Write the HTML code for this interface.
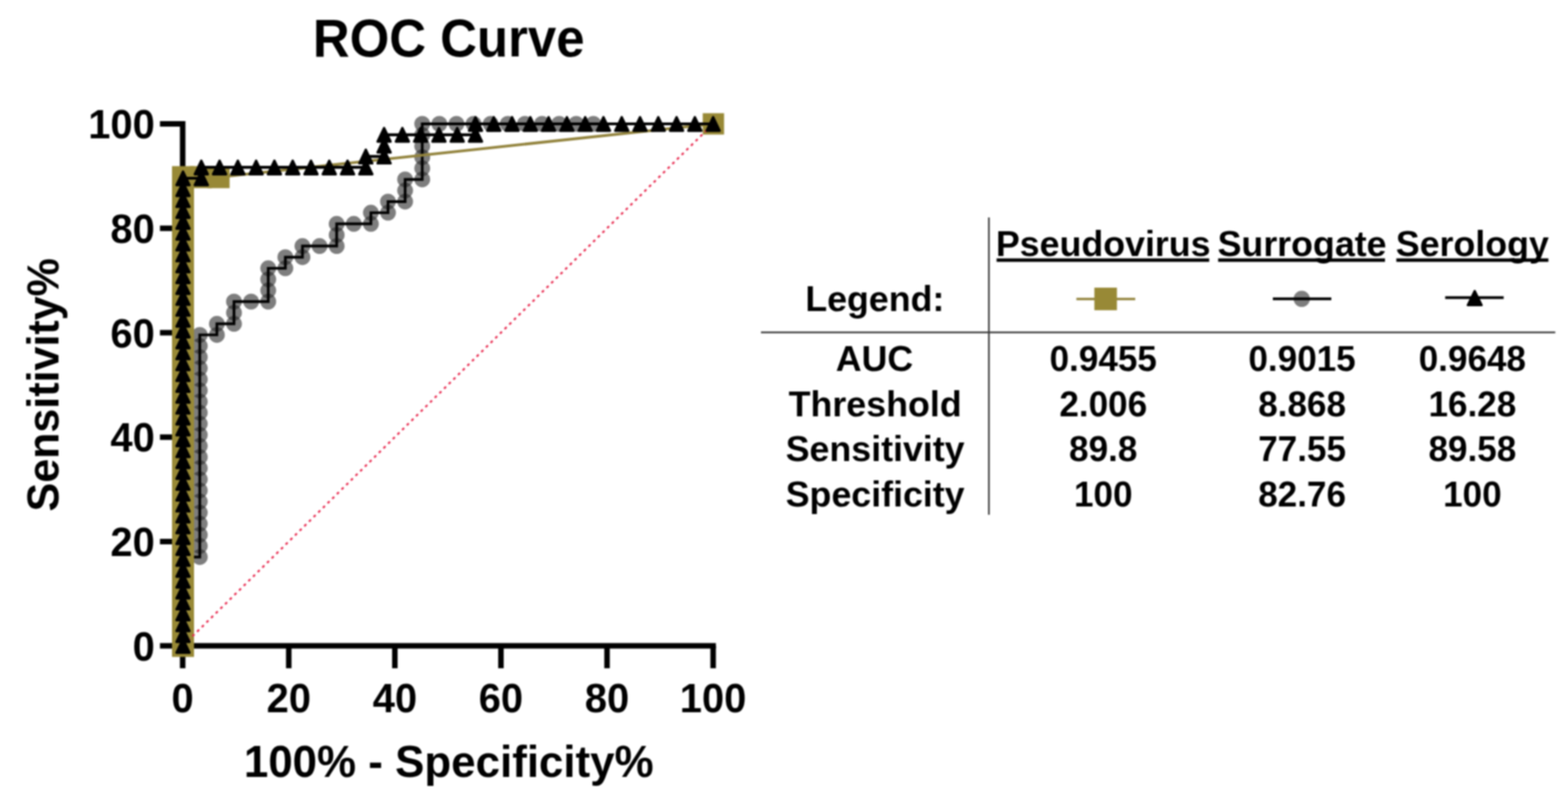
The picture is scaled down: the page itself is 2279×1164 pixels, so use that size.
<!DOCTYPE html>
<html lang="en"><head><meta charset="utf-8"><title>ROC Curve</title>
<style>
html,body{margin:0;padding:0;background:#fff;}
body{width:2279px;height:1164px;overflow:hidden;}
svg{display:block;position:absolute;left:0;top:0;filter:blur(1px);}
text{font-family:"Liberation Sans",sans-serif;font-weight:bold;fill:#000;}
.tk{font-size:58px;}
.tb{font-size:51px;}
.ax{font-size:62.5px;}
.tt{font-size:74px;}
.ax2{font-size:63.8px;}
.th{font-size:52px;}
</style></head><body>
<svg width="2279" height="1164" viewBox="0 0 2279 1164" role="img" aria-label="ROC Curve">
<rect width="2279" height="1164" fill="#fff"/>
<text class="tt" transform="translate(652.2,82) scale(1.000,1.050)" text-anchor="middle">ROC Curve</text>
<text class="ax2" transform="translate(652.2,1128.5) scale(1.000,1.030)" text-anchor="middle">100% - Specificity%</text>
<text class="ax" transform="translate(85.2,559.2) rotate(-90) scale(1.000,1.050)" text-anchor="middle">Sensitivity%</text>
<g stroke="#000" stroke-width="8" fill="none" stroke-linecap="butt">
<path d="M265.5 176 V942.6"/>
<path d="M232.5 938.6 H1040.5"/>
<path d="M265.5 938.6 V971.1"/>
<path d="M232.5 786.88 H265.5"/>
<path d="M419.7 938.6 V971.1"/>
<path d="M232.5 635.16 H265.5"/>
<path d="M573.9 938.6 V971.1"/>
<path d="M232.5 483.44 H265.5"/>
<path d="M728.1 938.6 V971.1"/>
<path d="M232.5 331.72 H265.5"/>
<path d="M882.3 938.6 V971.1"/>
<path d="M232.5 180 H265.5"/>
<path d="M1036.5 938.6 V971.1"/>
</g>
<text class="tk" transform="translate(225,959.9) scale(1.000,1.020)" text-anchor="end">0</text>
<text class="tk" transform="translate(265.5,1035.2) scale(1.000,1.020)" text-anchor="middle">0</text>
<text class="tk" transform="translate(225,808.18) scale(1.000,1.020)" text-anchor="end">20</text>
<text class="tk" transform="translate(419.7,1035.2) scale(1.000,1.020)" text-anchor="middle">20</text>
<text class="tk" transform="translate(225,656.46) scale(1.000,1.020)" text-anchor="end">40</text>
<text class="tk" transform="translate(573.9,1035.2) scale(1.000,1.020)" text-anchor="middle">40</text>
<text class="tk" transform="translate(225,504.74) scale(1.000,1.020)" text-anchor="end">60</text>
<text class="tk" transform="translate(728.1,1035.2) scale(1.000,1.020)" text-anchor="middle">60</text>
<text class="tk" transform="translate(225,353.02) scale(1.000,1.020)" text-anchor="end">80</text>
<text class="tk" transform="translate(882.3,1035.2) scale(1.000,1.020)" text-anchor="middle">80</text>
<text class="tk" transform="translate(225,201.3) scale(1.000,1.020)" text-anchor="end">100</text>
<text class="tk" transform="translate(1036.5,1035.2) scale(1.000,1.020)" text-anchor="middle">100</text>
<g fill="rgba(40,40,40,0.60)">
<circle cx="290.37" cy="809.48" r="11.5"/>
<circle cx="290.37" cy="793.34" r="11.5"/>
<circle cx="290.37" cy="777.2" r="11.5"/>
<circle cx="290.37" cy="761.06" r="11.5"/>
<circle cx="290.37" cy="744.91" r="11.5"/>
<circle cx="290.37" cy="728.77" r="11.5"/>
<circle cx="290.37" cy="712.63" r="11.5"/>
<circle cx="290.37" cy="696.49" r="11.5"/>
<circle cx="290.37" cy="680.35" r="11.5"/>
<circle cx="290.37" cy="664.21" r="11.5"/>
<circle cx="290.37" cy="648.07" r="11.5"/>
<circle cx="290.37" cy="631.93" r="11.5"/>
<circle cx="290.37" cy="615.79" r="11.5"/>
<circle cx="290.37" cy="599.65" r="11.5"/>
<circle cx="290.37" cy="583.51" r="11.5"/>
<circle cx="290.37" cy="567.37" r="11.5"/>
<circle cx="290.37" cy="551.23" r="11.5"/>
<circle cx="290.37" cy="535.09" r="11.5"/>
<circle cx="290.37" cy="518.95" r="11.5"/>
<circle cx="290.37" cy="502.81" r="11.5"/>
<circle cx="290.37" cy="486.67" r="11.5"/>
<circle cx="315.24" cy="486.67" r="11.5"/>
<circle cx="315.24" cy="470.53" r="11.5"/>
<circle cx="340.11" cy="470.53" r="11.5"/>
<circle cx="340.11" cy="454.39" r="11.5"/>
<circle cx="340.11" cy="438.25" r="11.5"/>
<circle cx="364.98" cy="438.25" r="11.5"/>
<circle cx="389.85" cy="438.25" r="11.5"/>
<circle cx="389.85" cy="422.11" r="11.5"/>
<circle cx="389.85" cy="405.97" r="11.5"/>
<circle cx="389.85" cy="389.83" r="11.5"/>
<circle cx="414.73" cy="389.83" r="11.5"/>
<circle cx="414.73" cy="373.69" r="11.5"/>
<circle cx="439.6" cy="373.69" r="11.5"/>
<circle cx="439.6" cy="357.54" r="11.5"/>
<circle cx="464.47" cy="357.54" r="11.5"/>
<circle cx="489.34" cy="357.54" r="11.5"/>
<circle cx="489.34" cy="341.4" r="11.5"/>
<circle cx="489.34" cy="325.26" r="11.5"/>
<circle cx="514.21" cy="325.26" r="11.5"/>
<circle cx="539.08" cy="325.26" r="11.5"/>
<circle cx="539.08" cy="309.12" r="11.5"/>
<circle cx="563.95" cy="309.12" r="11.5"/>
<circle cx="563.95" cy="292.98" r="11.5"/>
<circle cx="588.82" cy="292.98" r="11.5"/>
<circle cx="588.82" cy="276.84" r="11.5"/>
<circle cx="588.82" cy="260.7" r="11.5"/>
<circle cx="613.69" cy="260.7" r="11.5"/>
<circle cx="613.69" cy="244.56" r="11.5"/>
<circle cx="613.69" cy="228.42" r="11.5"/>
<circle cx="613.69" cy="212.28" r="11.5"/>
<circle cx="613.69" cy="196.14" r="11.5"/>
<circle cx="613.69" cy="180" r="11.5"/>
<circle cx="638.56" cy="180" r="11.5"/>
<circle cx="663.44" cy="180" r="11.5"/>
<circle cx="688.31" cy="180" r="11.5"/>
<circle cx="713.18" cy="180" r="11.5"/>
<circle cx="738.05" cy="180" r="11.5"/>
<circle cx="762.92" cy="180" r="11.5"/>
<circle cx="787.79" cy="180" r="11.5"/>
<circle cx="812.66" cy="180" r="11.5"/>
<circle cx="837.53" cy="180" r="11.5"/>
<circle cx="862.4" cy="180" r="11.5"/>
</g>
<path d="M266 809.48 L290.37 809.48 L290.37 793.34 L290.37 777.2 L290.37 761.06 L290.37 744.91 L290.37 728.77 L290.37 712.63 L290.37 696.49 L290.37 680.35 L290.37 664.21 L290.37 648.07 L290.37 631.93 L290.37 615.79 L290.37 599.65 L290.37 583.51 L290.37 567.37 L290.37 551.23 L290.37 535.09 L290.37 518.95 L290.37 502.81 L290.37 486.67 L315.24 486.67 L315.24 470.53 L340.11 470.53 L340.11 454.39 L340.11 438.25 L364.98 438.25 L389.85 438.25 L389.85 422.11 L389.85 405.97 L389.85 389.83 L414.73 389.83 L414.73 373.69 L439.6 373.69 L439.6 357.54 L464.47 357.54 L489.34 357.54 L489.34 341.4 L489.34 325.26 L514.21 325.26 L539.08 325.26 L539.08 309.12 L563.95 309.12 L563.95 292.98 L588.82 292.98 L588.82 276.84 L588.82 260.7 L613.69 260.7 L613.69 244.56 L613.69 228.42 L613.69 212.28 L613.69 196.14 L613.69 180 L638.56 180 L663.44 180 L688.31 180 L713.18 180 L738.05 180 L762.92 180 L787.79 180 L812.66 180 L837.53 180 L862.4 180" stroke="#000" stroke-width="3.9" fill="none" stroke-linejoin="miter"/>
<path d="M317.7 257.41 L1036.5 180" stroke="#93843e" stroke-width="4" fill="none"/>
<g fill="#988936">
<rect x="250" y="922.6" width="32" height="32"/>
<rect x="250" y="907.12" width="32" height="32"/>
<rect x="250" y="891.64" width="32" height="32"/>
<rect x="250" y="876.16" width="32" height="32"/>
<rect x="250" y="860.67" width="32" height="32"/>
<rect x="250" y="845.19" width="32" height="32"/>
<rect x="250" y="829.71" width="32" height="32"/>
<rect x="250" y="814.23" width="32" height="32"/>
<rect x="250" y="798.75" width="32" height="32"/>
<rect x="250" y="783.27" width="32" height="32"/>
<rect x="250" y="767.78" width="32" height="32"/>
<rect x="250" y="752.3" width="32" height="32"/>
<rect x="250" y="736.82" width="32" height="32"/>
<rect x="250" y="721.34" width="32" height="32"/>
<rect x="250" y="705.86" width="32" height="32"/>
<rect x="250" y="690.38" width="32" height="32"/>
<rect x="250" y="674.89" width="32" height="32"/>
<rect x="250" y="659.41" width="32" height="32"/>
<rect x="250" y="643.93" width="32" height="32"/>
<rect x="250" y="628.45" width="32" height="32"/>
<rect x="250" y="612.97" width="32" height="32"/>
<rect x="250" y="597.49" width="32" height="32"/>
<rect x="250" y="582" width="32" height="32"/>
<rect x="250" y="566.52" width="32" height="32"/>
<rect x="250" y="551.04" width="32" height="32"/>
<rect x="250" y="535.56" width="32" height="32"/>
<rect x="250" y="520.08" width="32" height="32"/>
<rect x="250" y="504.6" width="32" height="32"/>
<rect x="250" y="489.11" width="32" height="32"/>
<rect x="250" y="473.63" width="32" height="32"/>
<rect x="250" y="458.15" width="32" height="32"/>
<rect x="250" y="442.67" width="32" height="32"/>
<rect x="250" y="427.19" width="32" height="32"/>
<rect x="250" y="411.71" width="32" height="32"/>
<rect x="250" y="396.22" width="32" height="32"/>
<rect x="250" y="380.74" width="32" height="32"/>
<rect x="250" y="365.26" width="32" height="32"/>
<rect x="250" y="349.78" width="32" height="32"/>
<rect x="250" y="334.3" width="32" height="32"/>
<rect x="250" y="318.82" width="32" height="32"/>
<rect x="250" y="303.33" width="32" height="32"/>
<rect x="250" y="287.85" width="32" height="32"/>
<rect x="250" y="272.37" width="32" height="32"/>
<rect x="250" y="256.89" width="32" height="32"/>
<rect x="250" y="241.41" width="32" height="32"/>
<rect x="276" y="241.41" width="32" height="32"/>
<rect x="301.7" y="241.41" width="32" height="32"/>
<rect x="1021.4" y="164.5" width="31" height="31"/>
</g>
<path d="M265.5 938.6 L1036.5 180" stroke="#e8294e" stroke-width="2.8" stroke-dasharray="4 5.5" stroke-dashoffset="-1" fill="none"/>
<path d="M266 938.6 L266 922.8 L266 906.99 L266 891.19 L266 875.38 L266 859.58 L266 843.77 L266 827.97 L266 812.17 L266 796.36 L266 780.56 L266 764.75 L266 748.95 L266 733.15 L266 717.34 L266 701.54 L266 685.73 L266 669.93 L266 654.12 L266 638.32 L266 622.52 L266 606.71 L266 590.91 L266 575.1 L266 559.3 L266 543.5 L266 527.69 L266 511.89 L266 496.08 L266 480.28 L266 464.48 L266 448.67 L266 432.87 L266 417.06 L266 401.26 L266 385.45 L266 369.65 L266 353.85 L266 338.04 L266 322.24 L266 306.43 L266 290.63 L266 274.83 L266 259.02 L292.57 259.02 L292.57 243.22 L319.14 243.22 L345.71 243.22 L372.28 243.22 L398.84 243.22 L425.41 243.22 L451.98 243.22 L478.55 243.22 L505.12 243.22 L531.69 243.22 L531.69 227.41 L558.26 227.41 L558.26 211.61 L558.26 195.8 L584.83 195.8 L611.4 195.8 L637.97 195.8 L664.53 195.8 L691.1 195.8 L691.1 180 L717.67 180 L744.24 180 L770.81 180 L797.38 180 L823.95 180 L850.52 180 L877.09 180 L903.66 180 L930.22 180 L956.79 180 L983.36 180 L1009.93 180 L1036.5 180" stroke="#000" stroke-width="4.2" fill="none" stroke-linejoin="miter"/>
<g fill="#000" stroke="#000" stroke-width="3.4" stroke-linejoin="round">
<path d="M266 928.8 l9.5 19.8 h-19z"/>
<path d="M266 913 l9.5 19.8 h-19z"/>
<path d="M266 897.19 l9.5 19.8 h-19z"/>
<path d="M266 881.39 l9.5 19.8 h-19z"/>
<path d="M266 865.58 l9.5 19.8 h-19z"/>
<path d="M266 849.78 l9.5 19.8 h-19z"/>
<path d="M266 833.98 l9.5 19.8 h-19z"/>
<path d="M266 818.17 l9.5 19.8 h-19z"/>
<path d="M266 802.37 l9.5 19.8 h-19z"/>
<path d="M266 786.56 l9.5 19.8 h-19z"/>
<path d="M266 770.76 l9.5 19.8 h-19z"/>
<path d="M266 754.95 l9.5 19.8 h-19z"/>
<path d="M266 739.15 l9.5 19.8 h-19z"/>
<path d="M266 723.35 l9.5 19.8 h-19z"/>
<path d="M266 707.54 l9.5 19.8 h-19z"/>
<path d="M266 691.74 l9.5 19.8 h-19z"/>
<path d="M266 675.93 l9.5 19.8 h-19z"/>
<path d="M266 660.13 l9.5 19.8 h-19z"/>
<path d="M266 644.33 l9.5 19.8 h-19z"/>
<path d="M266 628.52 l9.5 19.8 h-19z"/>
<path d="M266 612.72 l9.5 19.8 h-19z"/>
<path d="M266 596.91 l9.5 19.8 h-19z"/>
<path d="M266 581.11 l9.5 19.8 h-19z"/>
<path d="M266 565.3 l9.5 19.8 h-19z"/>
<path d="M266 549.5 l9.5 19.8 h-19z"/>
<path d="M266 533.7 l9.5 19.8 h-19z"/>
<path d="M266 517.89 l9.5 19.8 h-19z"/>
<path d="M266 502.09 l9.5 19.8 h-19z"/>
<path d="M266 486.28 l9.5 19.8 h-19z"/>
<path d="M266 470.48 l9.5 19.8 h-19z"/>
<path d="M266 454.68 l9.5 19.8 h-19z"/>
<path d="M266 438.87 l9.5 19.8 h-19z"/>
<path d="M266 423.07 l9.5 19.8 h-19z"/>
<path d="M266 407.26 l9.5 19.8 h-19z"/>
<path d="M266 391.46 l9.5 19.8 h-19z"/>
<path d="M266 375.65 l9.5 19.8 h-19z"/>
<path d="M266 359.85 l9.5 19.8 h-19z"/>
<path d="M266 344.05 l9.5 19.8 h-19z"/>
<path d="M266 328.24 l9.5 19.8 h-19z"/>
<path d="M266 312.44 l9.5 19.8 h-19z"/>
<path d="M266 296.63 l9.5 19.8 h-19z"/>
<path d="M266 280.83 l9.5 19.8 h-19z"/>
<path d="M266 265.03 l9.5 19.8 h-19z"/>
<path d="M266 249.22 l9.5 19.8 h-19z"/>
<path d="M292.57 249.22 l9.5 19.8 h-19z"/>
<path d="M292.57 233.42 l9.5 19.8 h-19z"/>
<path d="M319.14 233.42 l9.5 19.8 h-19z"/>
<path d="M345.71 233.42 l9.5 19.8 h-19z"/>
<path d="M372.28 233.42 l9.5 19.8 h-19z"/>
<path d="M398.84 233.42 l9.5 19.8 h-19z"/>
<path d="M425.41 233.42 l9.5 19.8 h-19z"/>
<path d="M451.98 233.42 l9.5 19.8 h-19z"/>
<path d="M478.55 233.42 l9.5 19.8 h-19z"/>
<path d="M505.12 233.42 l9.5 19.8 h-19z"/>
<path d="M531.69 233.42 l9.5 19.8 h-19z"/>
<path d="M531.69 217.61 l9.5 19.8 h-19z"/>
<path d="M558.26 217.61 l9.5 19.8 h-19z"/>
<path d="M558.26 201.81 l9.5 19.8 h-19z"/>
<path d="M558.26 186 l9.5 19.8 h-19z"/>
<path d="M584.83 186 l9.5 19.8 h-19z"/>
<path d="M611.4 186 l9.5 19.8 h-19z"/>
<path d="M637.97 186 l9.5 19.8 h-19z"/>
<path d="M664.53 186 l9.5 19.8 h-19z"/>
<path d="M691.1 186 l9.5 19.8 h-19z"/>
<path d="M691.1 170.2 l9.5 19.8 h-19z"/>
<path d="M717.67 170.2 l9.5 19.8 h-19z"/>
<path d="M744.24 170.2 l9.5 19.8 h-19z"/>
<path d="M770.81 170.2 l9.5 19.8 h-19z"/>
<path d="M797.38 170.2 l9.5 19.8 h-19z"/>
<path d="M823.95 170.2 l9.5 19.8 h-19z"/>
<path d="M850.52 170.2 l9.5 19.8 h-19z"/>
<path d="M877.09 170.2 l9.5 19.8 h-19z"/>
<path d="M903.66 170.2 l9.5 19.8 h-19z"/>
<path d="M930.22 170.2 l9.5 19.8 h-19z"/>
<path d="M956.79 170.2 l9.5 19.8 h-19z"/>
<path d="M983.36 170.2 l9.5 19.8 h-19z"/>
<path d="M1009.93 170.2 l9.5 19.8 h-19z"/>
<path d="M1036.5 170.2 l9.5 19.8 h-19z"/>
</g>
<g stroke="#3a3a3a" stroke-width="2.4" fill="none">
<path d="M1437.3 316 V748"/>
<path d="M1106 483 H2260.5"/>
</g>
<text class="th" x="1603.5" y="371.5" text-anchor="middle">Pseudovirus</text>
<text class="th" x="1892.5" y="371.5" text-anchor="middle">Surrogate</text>
<text class="th" x="2140" y="371.5" text-anchor="middle">Serology</text>
<g stroke="#000" stroke-width="5" fill="none">
<path d="M1448.5 378 H1757.5"/>
<path d="M1770.5 378 H2013"/>
<path d="M2029.5 378 H2250.5"/>
</g>
<text class="th" x="1271.5" y="452" text-anchor="middle">Legend:</text>
<text class="th" x="1271" y="539" text-anchor="middle">AUC</text>
<text class="tb" x="1603.5" y="539" text-anchor="middle">0.9455</text>
<text class="tb" x="1892.5" y="539" text-anchor="middle">0.9015</text>
<text class="tb" x="2140" y="539" text-anchor="middle">0.9648</text>
<text class="th" x="1272" y="604.5" text-anchor="middle">Threshold</text>
<text class="tb" x="1603.5" y="604.5" text-anchor="middle">2.006</text>
<text class="tb" x="1892.5" y="604.5" text-anchor="middle">8.868</text>
<text class="tb" x="2140" y="604.5" text-anchor="middle">16.28</text>
<text class="th" x="1272" y="670" text-anchor="middle">Sensitivity</text>
<text class="tb" x="1603.5" y="670" text-anchor="middle">89.8</text>
<text class="tb" x="1892.5" y="670" text-anchor="middle">77.55</text>
<text class="tb" x="2140" y="670" text-anchor="middle">89.58</text>
<text class="th" x="1272" y="736" text-anchor="middle">Specificity</text>
<text class="tb" x="1603.5" y="736" text-anchor="middle">100</text>
<text class="tb" x="1892.5" y="736" text-anchor="middle">82.76</text>
<text class="tb" x="2140" y="736" text-anchor="middle">100</text>
<path d="M1564.5 434.5 H1650" stroke="#93843e" stroke-width="3.4" fill="none"/>
<rect x="1590.6" y="418" width="32.8" height="32.8" fill="#988936"/>
<circle cx="1892" cy="434.3" r="11.8" fill="rgba(40,40,40,0.60)"/>
<path d="M1850 434.3 H1935" stroke="#000" stroke-width="4" fill="none"/>
<path d="M2100.5 432.5 H2185.5" stroke="#000" stroke-width="4" fill="none"/>
<path d="M2143.4 423 l10 20.4 h-20z" fill="#000" stroke="#000" stroke-width="3.4" stroke-linejoin="round"/>
</svg>
</body></html>
